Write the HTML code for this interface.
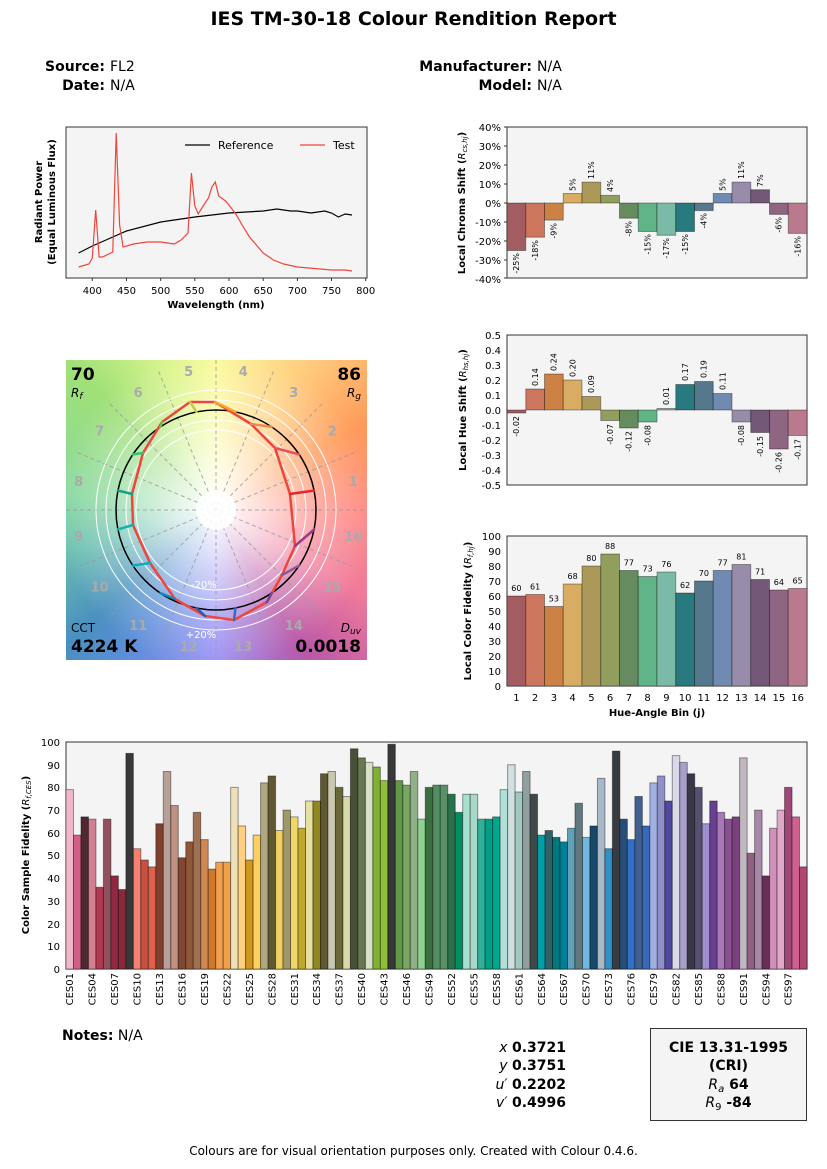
<!DOCTYPE html>
<html><head><meta charset="utf-8"><style>
html,body{margin:0;padding:0;background:#fff;}
body{width:827px;height:1169px;position:relative;overflow:hidden;font-family:"DejaVu Sans","Liberation Sans",sans-serif;}
#pbg{position:absolute;left:66px;top:360px;width:301px;height:300px;
background:radial-gradient(circle at 150px 150px, rgba(255,255,255,1) 0px, rgba(255,255,255,0.75) 40px, rgba(255,255,255,0.25) 110px, rgba(255,255,255,0) 160px),
conic-gradient(from 0deg at 150px 150px,#fafa9a 0deg,#ffd080 30deg,#ff9a5a 60deg,#ff8a84 90deg,#f07a9a 120deg,#b858a8 148deg,#9a92f6 180deg,#5c8ed8 212deg,#4a90c0 228deg,#6cc0b0 255deg,#88d8a0 275deg,#a0e078 315deg,#d8f48c 340deg,#fafa9a 360deg);}
svg{position:absolute;left:0;top:0;}
</style></head><body>
<div id="pbg"></div>
<svg width="827" height="1169" viewBox="0 0 827 1169" font-family="DejaVu Sans, Liberation Sans, sans-serif">
<text x="413.5" y="25" text-anchor="middle" font-size="19" font-weight="bold">IES TM-30-18 Colour Rendition Report</text>
<g font-size="14">
<text x="105" y="71" text-anchor="end" font-weight="bold">Source:</text><text x="110" y="71">FL2</text>
<text x="105" y="90" text-anchor="end" font-weight="bold">Date:</text><text x="110" y="90">N/A</text>
<text x="532" y="71" text-anchor="end" font-weight="bold">Manufacturer:</text><text x="537" y="71">N/A</text>
<text x="532" y="90" text-anchor="end" font-weight="bold">Model:</text><text x="537" y="90">N/A</text>
</g>

<!-- Spectrum -->
<rect x="66" y="127" width="301" height="151" fill="#f4f4f4" stroke="#333" stroke-width="1"/>
<polyline fill="none" stroke="#000" stroke-width="1.2" points="78.6,253 92.3,246 106,240 126.5,231 160.7,222 194.8,217 229,213 263.2,211 276.9,209 290.5,211 297.4,211 311,213 324.7,211 331.5,213 338.4,217 345.2,214 352,215"/>
<polyline fill="none" stroke="#f0453a" stroke-width="1.2" points="78.6,267 88.9,264 92.3,258 95.7,210 99.1,257 102.6,257 112.8,252 116.2,133 119.6,225 123.1,247 133.3,244 147,242 160.7,242 174.3,244 181.1,240 188,233 191.4,173 194.8,206 198.2,214 205,203 208.5,198 211.9,187 215.3,182 218.7,196 225.6,201 229,205 235.8,214 242.7,226 249.5,237 263.2,253 273.4,260 283.7,264 297.4,267 331.5,270 345,270 352,271"/>
<line x1="185" y1="145" x2="210" y2="145" stroke="#000" stroke-width="1.2"/><text x="218" y="149" font-size="11">Reference</text>
<line x1="300" y1="145" x2="325" y2="145" stroke="#f0453a" stroke-width="1.2"/><text x="333" y="149" font-size="11">Test</text>
<g stroke="#333"><line x1="92.3" y1="278" x2="92.3" y2="281"/><line x1="126.5" y1="278" x2="126.5" y2="281"/><line x1="160.7" y1="278" x2="160.7" y2="281"/><line x1="194.8" y1="278" x2="194.8" y2="281"/><line x1="229" y1="278" x2="229" y2="281"/><line x1="263.2" y1="278" x2="263.2" y2="281"/><line x1="297.4" y1="278" x2="297.4" y2="281"/><line x1="331.5" y1="278" x2="331.5" y2="281"/><line x1="365.7" y1="278" x2="365.7" y2="281"/></g>
<g font-size="10" text-anchor="middle"><text x="92.3" y="294">400</text><text x="126.5" y="294">450</text><text x="160.7" y="294">500</text><text x="194.8" y="294">550</text><text x="229" y="294">600</text><text x="263.2" y="294">650</text><text x="297.4" y="294">700</text><text x="331.5" y="294">750</text><text x="365.7" y="294">800</text></g>
<text x="216" y="308" font-size="10" font-weight="bold" text-anchor="middle">Wavelength (nm)</text>
<text transform="translate(42,202) rotate(-90)" font-size="10" font-weight="bold" text-anchor="middle">Radiant Power</text>
<text transform="translate(55,202) rotate(-90)" font-size="10" font-weight="bold" text-anchor="middle">(Equal Luminous Flux)</text>

<!-- Polar -->
<g stroke="#999" stroke-width="1" stroke-dasharray="4,3" opacity="0.8">
<line x1="66" y1="510" x2="366" y2="510"/><line x1="216" y1="360" x2="216" y2="660"/>
<line x1="354.6" y1="452.6" x2="77.4" y2="567.4"/><line x1="322" y1="404" x2="110" y2="616"/>
<line x1="273.4" y1="371.4" x2="158.6" y2="648.6"/><line x1="158.6" y1="371.4" x2="273.4" y2="648.6"/>
<line x1="110" y1="404" x2="322" y2="616"/><line x1="77.4" y1="452.6" x2="354.6" y2="567.4"/>
</g>
<circle cx="216" cy="510" r="20" fill="#fff" opacity="0.9"/>
<g fill="none" stroke="#fff" stroke-width="1"><circle cx="216" cy="510" r="80"/><circle cx="216" cy="510" r="90"/><circle cx="216" cy="510" r="110"/><circle cx="216" cy="510" r="120"/></g>
<circle cx="216" cy="510" r="100" fill="none" stroke="#000" stroke-width="1.5"/>
<g font-size="13" font-weight="bold" fill="#aaa" text-anchor="middle" dominant-baseline="middle">
<text x="353.3" y="482.7">1</text><text x="332.3" y="432.2">2</text><text x="293.8" y="393.7">3</text><text x="243.3" y="372.7">4</text><text x="188.7" y="372.7">5</text><text x="138.2" y="393.7">6</text><text x="99.7" y="432.2">7</text><text x="78.7" y="482.7">8</text><text x="78.7" y="537.3">9</text><text x="99.7" y="587.8">10</text><text x="138.2" y="626.3">11</text><text x="188.7" y="647.3">12</text><text x="243.3" y="647.3">13</text><text x="293.8" y="626.3">14</text><text x="332.3" y="587.8">15</text><text x="353.3" y="537.3">16</text>
</g>
<text x="204" y="588" font-size="10" fill="#fff" text-anchor="middle">-20%</text>
<text x="201" y="638" font-size="10" fill="#fff" text-anchor="middle">+20%</text>
<polygon fill="none" stroke="#f0453a" stroke-width="2.5" stroke-linejoin="round" points="290,494 275,448 251,424 215,402 190,402 162,422 143,453 132,494 133,525 150,563 175,599 205,616 234,620 267,602 282,575 295,546"/>
<g stroke-width="2.5" stroke-linecap="round">
<line x1="314.1" y1="490.5" x2="290" y2="494" stroke="#e8262a"/>
<line x1="299.1" y1="454.4" x2="275" y2="448" stroke="#e8525a"/>
<line x1="271.6" y1="426.9" x2="251" y2="424" stroke="#f08a4a"/>
<line x1="235.5" y1="411.9" x2="215" y2="402" stroke="#f4a82a"/>
<line x1="196.5" y1="411.9" x2="190" y2="402" stroke="#c8c84a"/>
<line x1="160.4" y1="426.9" x2="162" y2="422" stroke="#7ab84a"/>
<line x1="132.9" y1="454.4" x2="143" y2="453" stroke="#3ac07a"/>
<line x1="117.9" y1="490.5" x2="132" y2="494" stroke="#12a08a"/>
<line x1="117.9" y1="529.5" x2="133" y2="525" stroke="#18b0a8"/>
<line x1="132.9" y1="565.6" x2="150" y2="563" stroke="#10a8c0"/>
<line x1="160.4" y1="593.1" x2="175" y2="599" stroke="#1088b8"/>
<line x1="196.5" y1="608.1" x2="205" y2="616" stroke="#2a5aa8"/>
<line x1="235.5" y1="608.1" x2="234" y2="620" stroke="#3a6ac0"/>
<line x1="271.6" y1="593.1" x2="267" y2="602" stroke="#6a4a98"/>
<line x1="299.1" y1="565.6" x2="282" y2="575" stroke="#8a5a98"/>
<line x1="314.1" y1="529.5" x2="295" y2="546" stroke="#9a3a88"/>
</g>
<text x="71" y="380" font-size="17" font-weight="bold">70</text>
<text x="71" y="397" font-size="12" font-style="italic">R<tspan font-size="9" dy="2">f</tspan></text>
<text x="361" y="380" font-size="17" font-weight="bold" text-anchor="end">86</text>
<text x="361" y="397" font-size="12" font-style="italic" text-anchor="end">R<tspan font-size="9" dy="2">g</tspan></text>
<text x="71" y="632" font-size="12">CCT</text>
<text x="71" y="652" font-size="17" font-weight="bold">4224 K</text>
<text x="361" y="632" font-size="12" font-style="italic" text-anchor="end">D<tspan font-size="9" dy="2">uv</tspan></text>
<text x="361" y="652" font-size="17" font-weight="bold" text-anchor="end">0.0018</text>

<!-- Chroma shift -->
<rect x="507" y="127" width="300" height="151" fill="#f4f4f4" stroke="#333"/>
<g transform="translate(507,203) scale(18.75,-1.9)" stroke="rgba(0,0,0,0.35)" stroke-width="1">
<rect vector-effect="non-scaling-stroke" x="0" y="-25" width="1" height="25" fill="#a35c60"/>
<rect vector-effect="non-scaling-stroke" x="1" y="-18" width="1" height="18" fill="#cc765e"/>
<rect vector-effect="non-scaling-stroke" x="2" y="-9" width="1" height="9" fill="#cc8145"/>
<rect vector-effect="non-scaling-stroke" x="3" y="0" width="1" height="5" fill="#d8ac62"/>
<rect vector-effect="non-scaling-stroke" x="4" y="0" width="1" height="11" fill="#ac9959"/>
<rect vector-effect="non-scaling-stroke" x="5" y="0" width="1" height="4" fill="#919e5d"/>
<rect vector-effect="non-scaling-stroke" x="6" y="-8" width="1" height="8" fill="#668b5e"/>
<rect vector-effect="non-scaling-stroke" x="7" y="-15" width="1" height="15" fill="#61b388"/>
<rect vector-effect="non-scaling-stroke" x="8" y="-17" width="1" height="17" fill="#7bbaa6"/>
<rect vector-effect="non-scaling-stroke" x="9" y="-15" width="1" height="15" fill="#297a7e"/>
<rect vector-effect="non-scaling-stroke" x="10" y="-4" width="1" height="4" fill="#55788d"/>
<rect vector-effect="non-scaling-stroke" x="11" y="0" width="1" height="5" fill="#708ab2"/>
<rect vector-effect="non-scaling-stroke" x="12" y="0" width="1" height="11" fill="#988caa"/>
<rect vector-effect="non-scaling-stroke" x="13" y="0" width="1" height="7" fill="#735877"/>
<rect vector-effect="non-scaling-stroke" x="14" y="-6" width="1" height="6" fill="#8f6682"/>
<rect vector-effect="non-scaling-stroke" x="15" y="-16" width="1" height="16" fill="#ba7a8e"/>
</g>
<g font-size="8">
<text transform="translate(516.4,253) rotate(-90)" text-anchor="end" dy=".35em">-25%</text>
<text transform="translate(535.1,240) rotate(-90)" text-anchor="end" dy=".35em">-18%</text>
<text transform="translate(553.9,223) rotate(-90)" text-anchor="end" dy=".35em">-9%</text>
<text transform="translate(572.6,191) rotate(-90)" dy=".35em">5%</text>
<text transform="translate(591.4,179) rotate(-90)" dy=".35em">11%</text>
<text transform="translate(610.1,192) rotate(-90)" dy=".35em">4%</text>
<text transform="translate(628.9,221) rotate(-90)" text-anchor="end" dy=".35em">-8%</text>
<text transform="translate(647.6,234) rotate(-90)" text-anchor="end" dy=".35em">-15%</text>
<text transform="translate(666.4,238) rotate(-90)" text-anchor="end" dy=".35em">-17%</text>
<text transform="translate(685.1,234) rotate(-90)" text-anchor="end" dy=".35em">-15%</text>
<text transform="translate(703.9,213) rotate(-90)" text-anchor="end" dy=".35em">-4%</text>
<text transform="translate(722.6,191) rotate(-90)" dy=".35em">5%</text>
<text transform="translate(741.4,179) rotate(-90)" dy=".35em">11%</text>
<text transform="translate(760.1,187) rotate(-90)" dy=".35em">7%</text>
<text transform="translate(778.9,217) rotate(-90)" text-anchor="end" dy=".35em">-6%</text>
<text transform="translate(797.6,236) rotate(-90)" text-anchor="end" dy=".35em">-16%</text>
</g>
<g stroke="#333"><line x1="504" y1="127" x2="507" y2="127"/><line x1="504" y1="146" x2="507" y2="146"/><line x1="504" y1="165" x2="507" y2="165"/><line x1="504" y1="184" x2="507" y2="184"/><line x1="504" y1="203" x2="507" y2="203"/><line x1="504" y1="222" x2="507" y2="222"/><line x1="504" y1="241" x2="507" y2="241"/><line x1="504" y1="260" x2="507" y2="260"/><line x1="504" y1="278" x2="507" y2="278"/></g>
<g font-size="10" text-anchor="end">
<text x="501" y="131">40%</text><text x="501" y="150">30%</text><text x="501" y="169">20%</text><text x="501" y="188">10%</text><text x="501" y="207">0%</text><text x="501" y="226">-10%</text><text x="501" y="245">-20%</text><text x="501" y="264">-30%</text><text x="501" y="283">-40%</text>
</g>
<text transform="translate(465,203) rotate(-90)" font-size="10" font-weight="bold" text-anchor="middle">Local Chroma Shift (<tspan font-style="italic" font-weight="normal">R</tspan><tspan font-size="7" font-style="italic" font-weight="normal" dy="2">cs,hj</tspan><tspan dy="-2">)</tspan></text>

<!-- Hue shift -->
<rect x="507" y="335" width="300" height="150" fill="#f4f4f4" stroke="#333"/>
<g transform="translate(507,410) scale(18.75,-150)" stroke="rgba(0,0,0,0.35)" stroke-width="1">
<rect vector-effect="non-scaling-stroke" x="0" y="-0.02" width="1" height="0.02" fill="#a35c60"/>
<rect vector-effect="non-scaling-stroke" x="1" y="0" width="1" height="0.14" fill="#cc765e"/>
<rect vector-effect="non-scaling-stroke" x="2" y="0" width="1" height="0.24" fill="#cc8145"/>
<rect vector-effect="non-scaling-stroke" x="3" y="0" width="1" height="0.20" fill="#d8ac62"/>
<rect vector-effect="non-scaling-stroke" x="4" y="0" width="1" height="0.09" fill="#ac9959"/>
<rect vector-effect="non-scaling-stroke" x="5" y="-0.07" width="1" height="0.07" fill="#919e5d"/>
<rect vector-effect="non-scaling-stroke" x="6" y="-0.12" width="1" height="0.12" fill="#668b5e"/>
<rect vector-effect="non-scaling-stroke" x="7" y="-0.08" width="1" height="0.08" fill="#61b388"/>
<rect vector-effect="non-scaling-stroke" x="8" y="0" width="1" height="0.01" fill="#7bbaa6"/>
<rect vector-effect="non-scaling-stroke" x="9" y="0" width="1" height="0.17" fill="#297a7e"/>
<rect vector-effect="non-scaling-stroke" x="10" y="0" width="1" height="0.19" fill="#55788d"/>
<rect vector-effect="non-scaling-stroke" x="11" y="0" width="1" height="0.11" fill="#708ab2"/>
<rect vector-effect="non-scaling-stroke" x="12" y="-0.08" width="1" height="0.08" fill="#988caa"/>
<rect vector-effect="non-scaling-stroke" x="13" y="-0.15" width="1" height="0.15" fill="#735877"/>
<rect vector-effect="non-scaling-stroke" x="14" y="-0.26" width="1" height="0.26" fill="#8f6682"/>
<rect vector-effect="non-scaling-stroke" x="15" y="-0.17" width="1" height="0.17" fill="#ba7a8e"/>
</g>
<g font-size="8">
<text transform="translate(516.4,416) rotate(-90)" text-anchor="end" dy=".35em">-0.02</text>
<text transform="translate(535.1,386) rotate(-90)" dy=".35em">0.14</text>
<text transform="translate(553.9,371) rotate(-90)" dy=".35em">0.24</text>
<text transform="translate(572.6,377) rotate(-90)" dy=".35em">0.20</text>
<text transform="translate(591.4,393) rotate(-90)" dy=".35em">0.09</text>
<text transform="translate(610.1,424) rotate(-90)" text-anchor="end" dy=".35em">-0.07</text>
<text transform="translate(628.9,431) rotate(-90)" text-anchor="end" dy=".35em">-0.12</text>
<text transform="translate(647.6,425) rotate(-90)" text-anchor="end" dy=".35em">-0.08</text>
<text transform="translate(666.4,405) rotate(-90)" dy=".35em">0.01</text>
<text transform="translate(685.1,381) rotate(-90)" dy=".35em">0.17</text>
<text transform="translate(703.9,378) rotate(-90)" dy=".35em">0.19</text>
<text transform="translate(722.6,390) rotate(-90)" dy=".35em">0.11</text>
<text transform="translate(741.4,425) rotate(-90)" text-anchor="end" dy=".35em">-0.08</text>
<text transform="translate(760.1,436) rotate(-90)" text-anchor="end" dy=".35em">-0.15</text>
<text transform="translate(778.9,452) rotate(-90)" text-anchor="end" dy=".35em">-0.26</text>
<text transform="translate(797.6,439) rotate(-90)" text-anchor="end" dy=".35em">-0.17</text>
</g>
<g font-size="10" text-anchor="end">
<text x="501" y="339">0.5</text><text x="501" y="354">0.4</text><text x="501" y="369">0.3</text><text x="501" y="384">0.2</text><text x="501" y="399">0.1</text><text x="501" y="414">0.0</text><text x="501" y="429">-0.1</text><text x="501" y="444">-0.2</text><text x="501" y="459">-0.3</text><text x="501" y="474">-0.4</text><text x="501" y="489">-0.5</text>
</g>
<text transform="translate(466,410) rotate(-90)" font-size="10" font-weight="bold" text-anchor="middle">Local Hue Shift (<tspan font-style="italic" font-weight="normal">R</tspan><tspan font-size="7" font-style="italic" font-weight="normal" dy="2">hs,hj</tspan><tspan dy="-2">)</tspan></text>

<!-- Fidelity -->
<rect x="507" y="536" width="300" height="150" fill="#f4f4f4" stroke="#333"/>
<g transform="translate(507,686) scale(18.75,-1.5)" stroke="rgba(0,0,0,0.35)" stroke-width="1">
<rect vector-effect="non-scaling-stroke" x="0" y="0" width="1" height="60" fill="#a35c60"/>
<rect vector-effect="non-scaling-stroke" x="1" y="0" width="1" height="61" fill="#cc765e"/>
<rect vector-effect="non-scaling-stroke" x="2" y="0" width="1" height="53" fill="#cc8145"/>
<rect vector-effect="non-scaling-stroke" x="3" y="0" width="1" height="68" fill="#d8ac62"/>
<rect vector-effect="non-scaling-stroke" x="4" y="0" width="1" height="80" fill="#ac9959"/>
<rect vector-effect="non-scaling-stroke" x="5" y="0" width="1" height="88" fill="#919e5d"/>
<rect vector-effect="non-scaling-stroke" x="6" y="0" width="1" height="77" fill="#668b5e"/>
<rect vector-effect="non-scaling-stroke" x="7" y="0" width="1" height="73" fill="#61b388"/>
<rect vector-effect="non-scaling-stroke" x="8" y="0" width="1" height="76" fill="#7bbaa6"/>
<rect vector-effect="non-scaling-stroke" x="9" y="0" width="1" height="62" fill="#297a7e"/>
<rect vector-effect="non-scaling-stroke" x="10" y="0" width="1" height="70" fill="#55788d"/>
<rect vector-effect="non-scaling-stroke" x="11" y="0" width="1" height="77" fill="#708ab2"/>
<rect vector-effect="non-scaling-stroke" x="12" y="0" width="1" height="81" fill="#988caa"/>
<rect vector-effect="non-scaling-stroke" x="13" y="0" width="1" height="71" fill="#735877"/>
<rect vector-effect="non-scaling-stroke" x="14" y="0" width="1" height="64" fill="#8f6682"/>
<rect vector-effect="non-scaling-stroke" x="15" y="0" width="1" height="65" fill="#ba7a8e"/>
</g>
<g font-size="8" text-anchor="middle">
<text x="516.4" y="591">60</text><text x="535.1" y="589.5">61</text><text x="553.9" y="601.5">53</text><text x="572.6" y="579">68</text><text x="591.4" y="561">80</text><text x="610.1" y="549">88</text><text x="628.9" y="565.5">77</text><text x="647.6" y="571.5">73</text><text x="666.4" y="567">76</text><text x="685.1" y="588">62</text><text x="703.9" y="576">70</text><text x="722.6" y="565.5">77</text><text x="741.4" y="559.5">81</text><text x="760.1" y="574.5">71</text><text x="778.9" y="585">64</text><text x="797.6" y="583.5">65</text>
</g>
<g font-size="10" text-anchor="end">
<text x="501" y="540">100</text><text x="501" y="555">90</text><text x="501" y="570">80</text><text x="501" y="585">70</text><text x="501" y="600">60</text><text x="501" y="615">50</text><text x="501" y="630">40</text><text x="501" y="645">30</text><text x="501" y="660">20</text><text x="501" y="675">10</text><text x="501" y="690">0</text>
</g>
<g font-size="10" text-anchor="middle">
<text x="516.4" y="701">1</text><text x="535.1" y="701">2</text><text x="553.9" y="701">3</text><text x="572.6" y="701">4</text><text x="591.4" y="701">5</text><text x="610.1" y="701">6</text><text x="628.9" y="701">7</text><text x="647.6" y="701">8</text><text x="666.4" y="701">9</text><text x="685.1" y="701">10</text><text x="703.9" y="701">11</text><text x="722.6" y="701">12</text><text x="741.4" y="701">13</text><text x="760.1" y="701">14</text><text x="778.9" y="701">15</text><text x="797.6" y="701">16</text>
</g>
<text x="657" y="716" font-size="10" font-weight="bold" text-anchor="middle">Hue-Angle Bin (j)</text>
<text transform="translate(471,611) rotate(-90)" font-size="10" font-weight="bold" text-anchor="middle">Local Color Fidelity (<tspan font-style="italic" font-weight="normal">R</tspan><tspan font-size="7" font-style="italic" font-weight="normal" dy="2">f,hj</tspan><tspan dy="-2">)</tspan></text>

<!-- CES chart -->
<rect x="66" y="742" width="741" height="227" fill="#f4f4f4" stroke="#333"/>
<g transform="translate(66,969) scale(7.485,-2.27)" stroke="rgba(0,0,0,0.4)" stroke-width="1">
<rect vector-effect="non-scaling-stroke" x="0" y="0" width="1" height="79" fill="#f0b8c8"/>
<rect vector-effect="non-scaling-stroke" x="1" y="0" width="1" height="59" fill="#d06088"/>
<rect vector-effect="non-scaling-stroke" x="2" y="0" width="1" height="67" fill="#502830"/>
<rect vector-effect="non-scaling-stroke" x="3" y="0" width="1" height="66" fill="#d08090"/>
<rect vector-effect="non-scaling-stroke" x="4" y="0" width="1" height="36" fill="#b03850"/>
<rect vector-effect="non-scaling-stroke" x="5" y="0" width="1" height="66" fill="#905060"/>
<rect vector-effect="non-scaling-stroke" x="6" y="0" width="1" height="41" fill="#902840"/>
<rect vector-effect="non-scaling-stroke" x="7" y="0" width="1" height="35" fill="#8a2838"/>
<rect vector-effect="non-scaling-stroke" x="8" y="0" width="1" height="95" fill="#383838"/>
<rect vector-effect="non-scaling-stroke" x="9" y="0" width="1" height="53" fill="#f88070"/>
<rect vector-effect="non-scaling-stroke" x="10" y="0" width="1" height="48" fill="#c85040"/>
<rect vector-effect="non-scaling-stroke" x="11" y="0" width="1" height="45" fill="#e06048"/>
<rect vector-effect="non-scaling-stroke" x="12" y="0" width="1" height="64" fill="#804030"/>
<rect vector-effect="non-scaling-stroke" x="13" y="0" width="1" height="87" fill="#b8a098"/>
<rect vector-effect="non-scaling-stroke" x="14" y="0" width="1" height="72" fill="#c09080"/>
<rect vector-effect="non-scaling-stroke" x="15" y="0" width="1" height="49" fill="#804830"/>
<rect vector-effect="non-scaling-stroke" x="16" y="0" width="1" height="56" fill="#905838"/>
<rect vector-effect="non-scaling-stroke" x="17" y="0" width="1" height="69" fill="#a07050"/>
<rect vector-effect="non-scaling-stroke" x="18" y="0" width="1" height="57" fill="#d08850"/>
<rect vector-effect="non-scaling-stroke" x="19" y="0" width="1" height="44" fill="#d07828"/>
<rect vector-effect="non-scaling-stroke" x="20" y="0" width="1" height="47" fill="#f0a050"/>
<rect vector-effect="non-scaling-stroke" x="21" y="0" width="1" height="47" fill="#f0a048"/>
<rect vector-effect="non-scaling-stroke" x="22" y="0" width="1" height="80" fill="#f0e0b8"/>
<rect vector-effect="non-scaling-stroke" x="23" y="0" width="1" height="63" fill="#ffd080"/>
<rect vector-effect="non-scaling-stroke" x="24" y="0" width="1" height="48" fill="#d09820"/>
<rect vector-effect="non-scaling-stroke" x="25" y="0" width="1" height="59" fill="#ffd060"/>
<rect vector-effect="non-scaling-stroke" x="26" y="0" width="1" height="82" fill="#b0a880"/>
<rect vector-effect="non-scaling-stroke" x="27" y="0" width="1" height="85" fill="#605830"/>
<rect vector-effect="non-scaling-stroke" x="28" y="0" width="1" height="61" fill="#f0d060"/>
<rect vector-effect="non-scaling-stroke" x="29" y="0" width="1" height="70" fill="#a09868"/>
<rect vector-effect="non-scaling-stroke" x="30" y="0" width="1" height="67" fill="#f0d868"/>
<rect vector-effect="non-scaling-stroke" x="31" y="0" width="1" height="62" fill="#c0a830"/>
<rect vector-effect="non-scaling-stroke" x="32" y="0" width="1" height="74" fill="#e8e0a0"/>
<rect vector-effect="non-scaling-stroke" x="33" y="0" width="1" height="74" fill="#908820"/>
<rect vector-effect="non-scaling-stroke" x="34" y="0" width="1" height="86" fill="#605830"/>
<rect vector-effect="non-scaling-stroke" x="35" y="0" width="1" height="87" fill="#c8c8b0"/>
<rect vector-effect="non-scaling-stroke" x="36" y="0" width="1" height="80" fill="#686838"/>
<rect vector-effect="non-scaling-stroke" x="37" y="0" width="1" height="76" fill="#d8d8a8"/>
<rect vector-effect="non-scaling-stroke" x="38" y="0" width="1" height="97" fill="#485038"/>
<rect vector-effect="non-scaling-stroke" x="39" y="0" width="1" height="93" fill="#687850"/>
<rect vector-effect="non-scaling-stroke" x="40" y="0" width="1" height="91" fill="#d8e0c8"/>
<rect vector-effect="non-scaling-stroke" x="41" y="0" width="1" height="89" fill="#80b030"/>
<rect vector-effect="non-scaling-stroke" x="42" y="0" width="1" height="83" fill="#90c038"/>
<rect vector-effect="non-scaling-stroke" x="43" y="0" width="1" height="99" fill="#383838"/>
<rect vector-effect="non-scaling-stroke" x="44" y="0" width="1" height="83" fill="#609848"/>
<rect vector-effect="non-scaling-stroke" x="45" y="0" width="1" height="81" fill="#78a860"/>
<rect vector-effect="non-scaling-stroke" x="46" y="0" width="1" height="87" fill="#90b088"/>
<rect vector-effect="non-scaling-stroke" x="47" y="0" width="1" height="66" fill="#90d090"/>
<rect vector-effect="non-scaling-stroke" x="48" y="0" width="1" height="80" fill="#3a7040"/>
<rect vector-effect="non-scaling-stroke" x="49" y="0" width="1" height="81" fill="#509060"/>
<rect vector-effect="non-scaling-stroke" x="50" y="0" width="1" height="81" fill="#5a9068"/>
<rect vector-effect="non-scaling-stroke" x="51" y="0" width="1" height="77" fill="#2a7048"/>
<rect vector-effect="non-scaling-stroke" x="52" y="0" width="1" height="69" fill="#009060"/>
<rect vector-effect="non-scaling-stroke" x="53" y="0" width="1" height="77" fill="#a8e0d0"/>
<rect vector-effect="non-scaling-stroke" x="54" y="0" width="1" height="77" fill="#a8d8c8"/>
<rect vector-effect="non-scaling-stroke" x="55" y="0" width="1" height="66" fill="#30b098"/>
<rect vector-effect="non-scaling-stroke" x="56" y="0" width="1" height="66" fill="#00a088"/>
<rect vector-effect="non-scaling-stroke" x="57" y="0" width="1" height="67" fill="#00a890"/>
<rect vector-effect="non-scaling-stroke" x="58" y="0" width="1" height="79" fill="#b0e0d8"/>
<rect vector-effect="non-scaling-stroke" x="59" y="0" width="1" height="90" fill="#d0e0e0"/>
<rect vector-effect="non-scaling-stroke" x="60" y="0" width="1" height="78" fill="#a0c8c0"/>
<rect vector-effect="non-scaling-stroke" x="61" y="0" width="1" height="87" fill="#90a0a0"/>
<rect vector-effect="non-scaling-stroke" x="62" y="0" width="1" height="77" fill="#404848"/>
<rect vector-effect="non-scaling-stroke" x="63" y="0" width="1" height="59" fill="#00a0a8"/>
<rect vector-effect="non-scaling-stroke" x="64" y="0" width="1" height="61" fill="#306068"/>
<rect vector-effect="non-scaling-stroke" x="65" y="0" width="1" height="58" fill="#007880"/>
<rect vector-effect="non-scaling-stroke" x="66" y="0" width="1" height="56" fill="#008098"/>
<rect vector-effect="non-scaling-stroke" x="67" y="0" width="1" height="62" fill="#60a0b8"/>
<rect vector-effect="non-scaling-stroke" x="68" y="0" width="1" height="73" fill="#607880"/>
<rect vector-effect="non-scaling-stroke" x="69" y="0" width="1" height="58" fill="#70b8e0"/>
<rect vector-effect="non-scaling-stroke" x="70" y="0" width="1" height="63" fill="#1a4868"/>
<rect vector-effect="non-scaling-stroke" x="71" y="0" width="1" height="84" fill="#a8b8c8"/>
<rect vector-effect="non-scaling-stroke" x="72" y="0" width="1" height="53" fill="#3090c8"/>
<rect vector-effect="non-scaling-stroke" x="73" y="0" width="1" height="96" fill="#383c40"/>
<rect vector-effect="non-scaling-stroke" x="74" y="0" width="1" height="66" fill="#284e78"/>
<rect vector-effect="non-scaling-stroke" x="75" y="0" width="1" height="57" fill="#3070c8"/>
<rect vector-effect="non-scaling-stroke" x="76" y="0" width="1" height="76" fill="#406090"/>
<rect vector-effect="non-scaling-stroke" x="77" y="0" width="1" height="63" fill="#3868b8"/>
<rect vector-effect="non-scaling-stroke" x="78" y="0" width="1" height="82" fill="#a0b0e0"/>
<rect vector-effect="non-scaling-stroke" x="79" y="0" width="1" height="85" fill="#9090c8"/>
<rect vector-effect="non-scaling-stroke" x="80" y="0" width="1" height="74" fill="#5048a0"/>
<rect vector-effect="non-scaling-stroke" x="81" y="0" width="1" height="94" fill="#d8d8e8"/>
<rect vector-effect="non-scaling-stroke" x="82" y="0" width="1" height="91" fill="#a8a0c8"/>
<rect vector-effect="non-scaling-stroke" x="83" y="0" width="1" height="86" fill="#3a3848"/>
<rect vector-effect="non-scaling-stroke" x="84" y="0" width="1" height="80" fill="#585070"/>
<rect vector-effect="non-scaling-stroke" x="85" y="0" width="1" height="64" fill="#a090d0"/>
<rect vector-effect="non-scaling-stroke" x="86" y="0" width="1" height="74" fill="#684090"/>
<rect vector-effect="non-scaling-stroke" x="87" y="0" width="1" height="69" fill="#a878b8"/>
<rect vector-effect="non-scaling-stroke" x="88" y="0" width="1" height="66" fill="#8a5090"/>
<rect vector-effect="non-scaling-stroke" x="89" y="0" width="1" height="67" fill="#7a4080"/>
<rect vector-effect="non-scaling-stroke" x="90" y="0" width="1" height="93" fill="#c0b8c0"/>
<rect vector-effect="non-scaling-stroke" x="91" y="0" width="1" height="51" fill="#906080"/>
<rect vector-effect="non-scaling-stroke" x="92" y="0" width="1" height="70" fill="#a888a8"/>
<rect vector-effect="non-scaling-stroke" x="93" y="0" width="1" height="41" fill="#683058"/>
<rect vector-effect="non-scaling-stroke" x="94" y="0" width="1" height="62" fill="#d090b8"/>
<rect vector-effect="non-scaling-stroke" x="95" y="0" width="1" height="70" fill="#e0a8c8"/>
<rect vector-effect="non-scaling-stroke" x="96" y="0" width="1" height="80" fill="#a04878"/>
<rect vector-effect="non-scaling-stroke" x="97" y="0" width="1" height="67" fill="#d06090"/>
<rect vector-effect="non-scaling-stroke" x="98" y="0" width="1" height="45" fill="#b04870"/>
</g>
<g font-size="10" text-anchor="end">
<text x="60" y="746">100</text><text x="60" y="769">90</text><text x="60" y="791">80</text><text x="60" y="814">70</text><text x="60" y="837">60</text><text x="60" y="859">50</text><text x="60" y="882">40</text><text x="60" y="905">30</text><text x="60" y="928">20</text><text x="60" y="950">10</text><text x="60" y="973">0</text>
</g>
<g font-size="10" text-anchor="end">
<text transform="translate(69.7,973) rotate(-90)" dy=".35em">CES01</text>
<text transform="translate(92.2,973) rotate(-90)" dy=".35em">CES04</text>
<text transform="translate(114.6,973) rotate(-90)" dy=".35em">CES07</text>
<text transform="translate(137.1,973) rotate(-90)" dy=".35em">CES10</text>
<text transform="translate(159.5,973) rotate(-90)" dy=".35em">CES13</text>
<text transform="translate(182,973) rotate(-90)" dy=".35em">CES16</text>
<text transform="translate(204.4,973) rotate(-90)" dy=".35em">CES19</text>
<text transform="translate(226.9,973) rotate(-90)" dy=".35em">CES22</text>
<text transform="translate(249.3,973) rotate(-90)" dy=".35em">CES25</text>
<text transform="translate(271.8,973) rotate(-90)" dy=".35em">CES28</text>
<text transform="translate(294.3,973) rotate(-90)" dy=".35em">CES31</text>
<text transform="translate(316.7,973) rotate(-90)" dy=".35em">CES34</text>
<text transform="translate(339.2,973) rotate(-90)" dy=".35em">CES37</text>
<text transform="translate(361.6,973) rotate(-90)" dy=".35em">CES40</text>
<text transform="translate(384.1,973) rotate(-90)" dy=".35em">CES43</text>
<text transform="translate(406.5,973) rotate(-90)" dy=".35em">CES46</text>
<text transform="translate(429,973) rotate(-90)" dy=".35em">CES49</text>
<text transform="translate(451.4,973) rotate(-90)" dy=".35em">CES52</text>
<text transform="translate(473.9,973) rotate(-90)" dy=".35em">CES55</text>
<text transform="translate(496.3,973) rotate(-90)" dy=".35em">CES58</text>
<text transform="translate(518.8,973) rotate(-90)" dy=".35em">CES61</text>
<text transform="translate(541.3,973) rotate(-90)" dy=".35em">CES64</text>
<text transform="translate(563.7,973) rotate(-90)" dy=".35em">CES67</text>
<text transform="translate(586.2,973) rotate(-90)" dy=".35em">CES70</text>
<text transform="translate(608.6,973) rotate(-90)" dy=".35em">CES73</text>
<text transform="translate(631.1,973) rotate(-90)" dy=".35em">CES76</text>
<text transform="translate(653.5,973) rotate(-90)" dy=".35em">CES79</text>
<text transform="translate(676,973) rotate(-90)" dy=".35em">CES82</text>
<text transform="translate(698.4,973) rotate(-90)" dy=".35em">CES85</text>
<text transform="translate(720.9,973) rotate(-90)" dy=".35em">CES88</text>
<text transform="translate(743.3,973) rotate(-90)" dy=".35em">CES91</text>
<text transform="translate(765.8,973) rotate(-90)" dy=".35em">CES94</text>
<text transform="translate(788.2,973) rotate(-90)" dy=".35em">CES97</text>
</g>
<text transform="translate(29,855) rotate(-90)" font-size="10" font-weight="bold" text-anchor="middle">Color Sample Fidelity (<tspan font-style="italic" font-weight="normal">R</tspan><tspan font-size="7" font-style="italic" font-weight="normal" dy="2">f,CES</tspan><tspan dy="-2">)</tspan></text>

<text x="62" y="1040" font-size="14"><tspan font-weight="bold">Notes:</tspan> N/A</text>
<g font-size="14" text-anchor="end">
<text x="566" y="1052"><tspan font-style="italic">x</tspan> <tspan font-weight="bold">0.3721</tspan></text>
<text x="566" y="1070"><tspan font-style="italic">y</tspan> <tspan font-weight="bold">0.3751</tspan></text>
<text x="566" y="1089"><tspan font-style="italic">u′</tspan> <tspan font-weight="bold">0.2202</tspan></text>
<text x="566" y="1107"><tspan font-style="italic">v′</tspan> <tspan font-weight="bold">0.4996</tspan></text>
</g>
<rect x="650.5" y="1028.5" width="156" height="92" fill="#f4f4f4" stroke="#333"/>
<g font-size="14" text-anchor="middle">
<text x="728.5" y="1052" font-weight="bold">CIE 13.31-1995</text>
<text x="728.5" y="1070" font-weight="bold">(CRI)</text>
<text x="728.5" y="1089"><tspan font-style="italic">R</tspan><tspan font-style="italic" font-size="10" dy="3">a</tspan><tspan font-weight="bold" dy="-3"> 64</tspan></text>
<text x="728.5" y="1107"><tspan font-style="italic">R</tspan><tspan font-size="10" dy="3">9</tspan><tspan font-weight="bold" dy="-3"> -84</tspan></text>
</g>
<text x="413.5" y="1155" font-size="12" text-anchor="middle">Colours are for visual orientation purposes only. Created with Colour 0.4.6.</text>
</svg>
</body></html>
